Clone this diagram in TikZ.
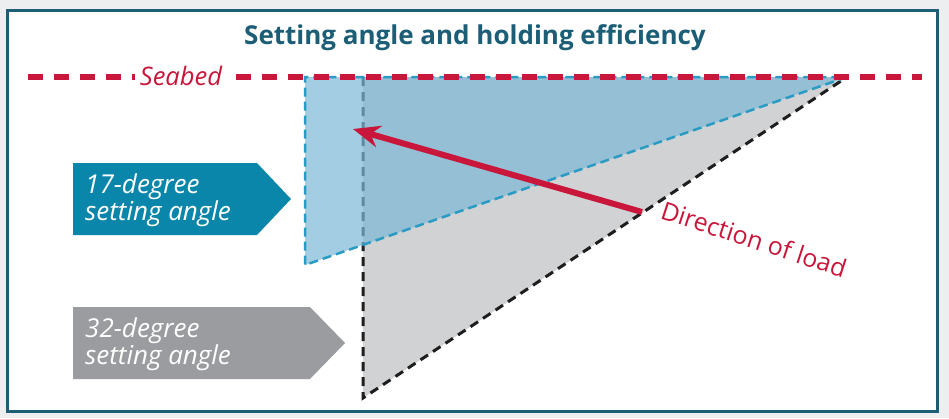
\documentclass[tikz,border=0pt]{standalone}
\usepackage{fontspec}
\setmainfont{Open Sans}
\usetikzlibrary{arrows.meta}
\definecolor{frameteal}{HTML}{1B5E76}
\definecolor{pagegray}{HTML}{EDEEEF}
\definecolor{seared}{HTML}{C8173A}
\definecolor{ink}{HTML}{1E1E1E}
\definecolor{fill32}{HTML}{D1D2D4}
\definecolor{fill17}{HTML}{7CB8D6}
\definecolor{edgeblue}{HTML}{2A9BC2}
\definecolor{box17}{HTML}{0A86AA}
\definecolor{box32}{HTML}{9A9C9F}

\begin{document}
\begin{tikzpicture}[x=1pt, y=-1pt,
    every node/.style={inner sep=0pt},
    boxlabel/.style={text=white, font=\fontsize{26}{27}\selectfont\itshape,
                     align=left, anchor=west},
    seabedline/.style={draw=seared, line width=6.5pt, dash pattern=on 15pt off 11pt},
    edge32/.style={draw=ink, line width=3pt, dash pattern=on 9pt off 6pt},
    edge17/.style={draw=edgeblue, line width=2.5pt, dash pattern=on 9pt off 5pt},
    load/.style={-{Stealth[length=27pt, width=22pt]}, draw=seared, line width=6pt}
  ]
    \fill[pagegray] (0,0) rectangle (949,418);
    \draw[frameteal, line width=3pt, fill=white] (7,10) rectangle (937,411);

    \node[font=\fontsize{26}{30}\selectfont\bfseries, text=frameteal] (title) at (475,38)
      {Setting angle and holding efficiency};

    % corners of the two wedges
    \coordinate (pin32) at (363,77);
    \coordinate (tip) at (847,77);
    \coordinate (foot32) at (363,398);
    \coordinate (pin17) at (305,77);
    \coordinate (foot17) at (305,265);

    \fill[fill32] (pin32) -- (tip) -- (foot32) -- cycle;
    \draw[edge32] (pin32) -- (foot32) -- (tip);
    \fill[fill17, opacity=0.7] (pin17) -- (tip) -- (foot17) -- cycle;
    \draw[edge17] (tip) -- (foot17) -- (pin17) -- (tip);

    % seabed
    \coordinate (seaL) at (28,77);
    \coordinate (seaR) at (922,77);
    \draw[seabedline] (seaL) -- (seaR);
    \node[fill=white, inner xsep=5pt, inner ysep=3pt, text=seared,
          font=\fontsize{25.5}{27}\selectfont\itshape] (seabed) at (181,76) {Seabed};

    % load
    \coordinate (loadfrom) at (642,212);
    \coordinate (loadto) at (353,129);
    \draw[load] (loadfrom) -- (loadto);
    \node[rotate=-18, text=seared, font=\fontsize{25}{27}\selectfont] (dirload) at (754,239)
      {Direction of load};

    % labels
    \fill[box17] (73,163) -- (257,163) -- (291,199) -- (257,235) -- (73,235) -- cycle;
    \node[boxlabel] (lbl17) at (85,200) {17-degree\\setting angle};
    \fill[box32] (73,307) -- (310,307) -- (345,343) -- (310,379) -- (73,379) -- cycle;
    \node[boxlabel] (lbl32) at (85,344) {32-degree\\setting angle};
  \end{tikzpicture}
\end{document}
